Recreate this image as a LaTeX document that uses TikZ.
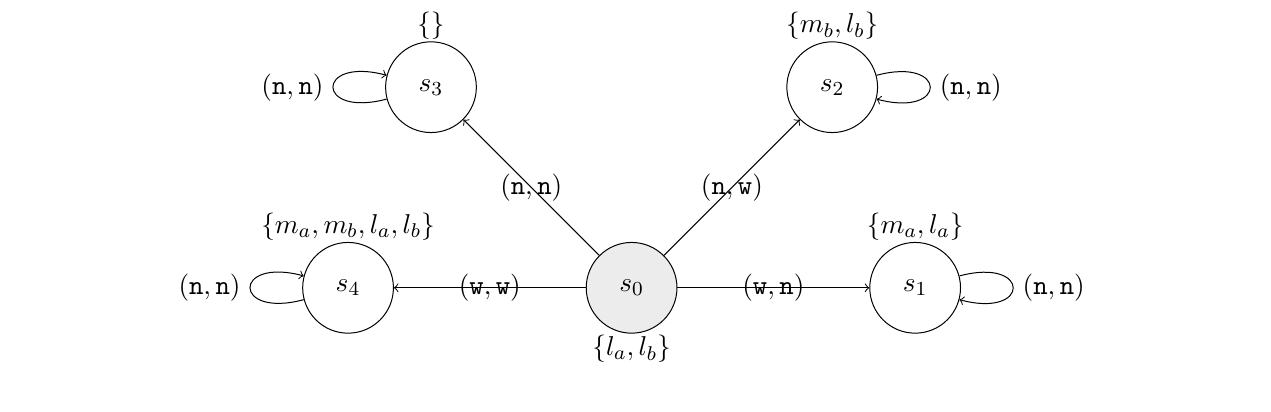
\documentclass[11pt,tikz,border=0pt]{standalone}
\usepackage{amsmath}
\usepackage{amssymb}
\usepackage{xcolor}
\usepackage{tikz}
\usetikzlibrary{arrows, positioning}

\begin{document}
\begin{tikzpicture}[
    node distance=4cm, on grid,
    world/.style={circle, draw, minimum size=1.28cm},
    actual/.style={world, fill=gray!15},
    every label/.style={inner sep=0.5pt},
    arrow/.style={->}
]
\useasboundingbox (-8.91,-1.74) rectangle (9.02,4.06);

\node[actual, label=below:{$\{l_a,l_b\}$}] (s0) {$s_0$};
\node[world, right=of s0, label=above:{$\{m_a,l_a\}$}] (s1) {$s_1$};
\node[world, above right=2.83cm and 2.83cm of s0, label=above:{$\{m_b,l_b\}$}] (s2) {$s_2$};
\node[world, above left=2.83cm and 2.83cm of s0, label=above:{$\{\}$}] (s3) {$s_3$};
\node[world, left=of s0, label=above:{$\{m_a,m_b,l_a,l_b\}$}] (s4) {$s_4$};

\draw[arrow] (s0) -- node {$(\mathtt{w},\mathtt{n})$} (s1);
\draw[arrow] (s0) -- node {$(\mathtt{n},\mathtt{w})$} (s2);
\draw[arrow] (s0) -- node {$(\mathtt{n},\mathtt{n})$} (s3);
\draw[arrow] (s0) -- node {$(\mathtt{w},\mathtt{w})$} (s4);

\draw[arrow] (s1) to[loop right] node[right] {$(\mathtt{n},\mathtt{n})$} (s1);
\draw[arrow] (s2) to[loop right] node[right] {$(\mathtt{n},\mathtt{n})$} (s2);
\draw[arrow] (s3) to[loop left] node[left] {$(\mathtt{n},\mathtt{n})$} (s3);
\draw[arrow] (s4) to[loop left] node[left] {$(\mathtt{n},\mathtt{n})$} (s4);

\end{tikzpicture}
\end{document}
